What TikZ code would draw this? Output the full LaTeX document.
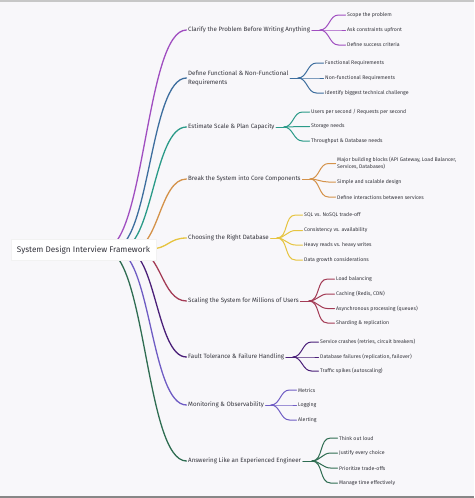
\documentclass[tikz,border=0pt]{standalone}
\usepackage{fontspec}
\setmainfont{Fira Sans}
\usetikzlibrary{calc}
\definecolor{bg}{HTML}{F8F7FA}
\definecolor{txt}{HTML}{34343C}
\definecolor{cA}{HTML}{A04EC0}
\definecolor{cB}{HTML}{3D6E9E}
\definecolor{cC}{HTML}{2A9A88}
\definecolor{cD}{HTML}{D4924A}
\definecolor{cE}{HTML}{E6C440}
\definecolor{cF}{HTML}{A33B55}
\definecolor{cG}{HTML}{4A1F78}
\definecolor{cH}{HTML}{6F5CC4}
\definecolor{cI}{HTML}{2F6D52}
\tikzset{
  rootbox/.style={fill=white, draw=black!5, line width=0.6pt, minimum width=145pt, minimum height=21pt, inner sep=0pt, text=txt, font=\fontsize{8.2}{9}\selectfont},
  topic/.style={anchor=west, inner sep=1.5pt, text=txt, align=left, font=\fontsize{6.2}{9}\selectfont},
  leaf/.style={anchor=west, inner sep=1.5pt, text=txt, align=left, font=\fontsize{5.2}{7.2}\selectfont},
  mainline/.style={line width=1.3pt, line cap=round},
  subline/.style={line width=1pt, line cap=round},
}
\begin{document}
\begin{tikzpicture}[x=1pt,y=-1pt]
\useasboundingbox (0,0) rectangle (474,498);
\fill[bg] (0,0) rectangle (474,498);
\fill[black!22] (0,0) rectangle (474,2);
\fill[black!47] (0,495.5) rectangle (474,498);

% topics
\node[topic] (t1) at (186.5,30) {Clarify the Problem Before Writing Anything};
\node[topic] (t2) at (186.5,78) {Define Functional \& Non-Functional\\Requirements};
\node[topic] (t3) at (186.5,127) {Estimate Scale \& Plan Capacity};
\node[topic] (t4) at (186.5,179) {Break the System into Core Components};
\node[topic] (t5) at (186.5,238) {Choosing the Right Database};
\node[topic] (t6) at (186.5,301) {Scaling the System for Millions of Users};
\node[topic] (t7) at (186.5,357) {Fault Tolerance \& Failure Handling};
\node[topic] (t8) at (186.5,405) {Monitoring \& Observability};
\node[topic] (t9) at (186.5,461) {Answering Like an Experienced Engineer};

% start points (hidden under the root box)
\coordinate (s1) at (104,249);
\coordinate (s2) at (113,249);
\coordinate (s3) at (120,249);
\coordinate (s4) at (132,249);
\coordinate (s5) at (150,249);
\coordinate (s6) at (136,250);
\coordinate (s7) at (126,250);
\coordinate (s8) at (115,250);
\coordinate (s9) at (105,250);

\draw[mainline,cA] (s1) .. controls +(41,0) and +(-41,0) .. (t1.west);
\draw[mainline,cB] (s2) .. controls +(37,0) and +(-37,0) .. (t2.west);
\draw[mainline,cC] (s3) .. controls +(33,0) and +(-33,0) .. (t3.west);
\draw[mainline,cD] (s4) .. controls +(27,0) and +(-27,0) .. (t4.west);
\draw[mainline,cE] (s5) .. controls +(18,0) and +(-18,0) .. (t5.west);
\draw[mainline,cF] (s6) .. controls +(25,0) and +(-25,0) .. (t6.west);
\draw[mainline,cG] (s7) .. controls +(30,0) and +(-30,0) .. (t7.west);
\draw[mainline,cH] (s8) .. controls +(36,0) and +(-36,0) .. (t8.west);
\draw[mainline,cI] (s9) .. controls +(41,0) and +(-41,0) .. (t9.west);

% root
\node[rootbox] (root) at (83.5,250) {System Design Interview Framework};

% leaves
\node[leaf] (l11) at (345.5,15) {Scope the problem};
\node[leaf] (l12) at (345.5,30) {Ask constraints upfront};
\node[leaf] (l13) at (345.5,45) {Define success criteria};
\node[leaf] (l21) at (323.5,63) {Functional Requirements};
\node[leaf] (l22) at (323.5,78) {Non-functional Requirements};
\node[leaf] (l23) at (323.5,93) {Identify biggest technical challenge};
\node[leaf] (l31) at (309.5,112) {Users per second / Requests per second};
\node[leaf] (l32) at (309.5,126.5) {Storage needs};
\node[leaf] (l33) at (309.5,141) {Throughput \& Database needs};
\node[leaf] (l41) at (335.5,163.5) {Major building blocks (API Gateway, Load Balancer,\\Services, Databases)};
\node[leaf] (l42) at (335.5,182) {Simple and scalable design};
\node[leaf] (l43) at (335.5,197) {Define interactions between services};
\node[leaf] (l51) at (302.5,215) {SQL vs. NoSQL trade-off};
\node[leaf] (l52) at (302.5,230.5) {Consistency vs. availability};
\node[leaf] (l53) at (302.5,245) {Heavy reads vs. heavy writes};
\node[leaf] (l54) at (302.5,260) {Data growth considerations};
\node[leaf] (l61) at (334.5,279) {Load balancing};
\node[leaf] (l62) at (334.5,294) {Caching (Redis, CDN)};
\node[leaf] (l63) at (334.5,308.5) {Asynchronous processing (queues)};
\node[leaf] (l64) at (334.5,323) {Sharding \& replication};
\node[leaf] (l71) at (318.5,342) {Service crashes (retries, circuit breakers)};
\node[leaf] (l72) at (318.5,357) {Database failures (replication, failover)};
\node[leaf] (l73) at (318.5,371) {Traffic spikes (autoscaling)};
\node[leaf] (l81) at (296.5,390) {Metrics};
\node[leaf] (l82) at (296.5,405) {Logging};
\node[leaf] (l83) at (296.5,420) {Alerting};
\node[leaf] (l91) at (337.5,438) {Think out loud};
\node[leaf] (l92) at (337.5,453) {Justify every choice};
\node[leaf] (l93) at (337.5,468) {Prioritize trade-offs};
\node[leaf] (l94) at (337.5,483) {Manage time effectively};

% forks
\coordinate (f1) at (320,30);
\coordinate (f2) at (298,78);
\coordinate (f3) at (284,127);
\coordinate (f4) at (310,179);
\coordinate (f5) at (277,238);
\coordinate (f6) at (309,301);
\coordinate (f7) at (293,357);
\coordinate (f8) at (271,405);
\coordinate (f9) at (312,461);

\draw[subline,cA] (t1.east) -- (f1);
\foreach \i in {1,2,3} \draw[subline,cA] (f1) to[out=0,in=180] ($(l1\i.west)+(-7,0)$) -- (l1\i.west);
\draw[subline,cB] (t2.east) -- (f2);
\foreach \i in {1,2,3} \draw[subline,cB] (f2) to[out=0,in=180] ($(l2\i.west)+(-7,0)$) -- (l2\i.west);
\draw[subline,cC] (t3.east) -- (f3);
\foreach \i in {1,2,3} \draw[subline,cC] (f3) to[out=0,in=180] ($(l3\i.west)+(-7,0)$) -- (l3\i.west);
\draw[subline,cD] (t4.east) -- (f4);
\foreach \i in {1,2,3} \draw[subline,cD] (f4) to[out=0,in=180] ($(l4\i.west)+(-7,0)$) -- (l4\i.west);
\draw[subline,cE] (t5.east) -- (f5);
\foreach \i in {1,2,3,4} \draw[subline,cE] (f5) to[out=0,in=180] ($(l5\i.west)+(-7,0)$) -- (l5\i.west);
\draw[subline,cF] (t6.east) -- (f6);
\foreach \i in {1,2,3,4} \draw[subline,cF] (f6) to[out=0,in=180] ($(l6\i.west)+(-7,0)$) -- (l6\i.west);
\draw[subline,cG] (t7.east) -- (f7);
\foreach \i in {1,2,3} \draw[subline,cG] (f7) to[out=0,in=180] ($(l7\i.west)+(-7,0)$) -- (l7\i.west);
\draw[subline,cH] (t8.east) -- (f8);
\foreach \i in {1,2,3} \draw[subline,cH] (f8) to[out=0,in=180] ($(l8\i.west)+(-7,0)$) -- (l8\i.west);
\draw[subline,cI] (t9.east) -- (f9);
\foreach \i in {1,2,3,4} \draw[subline,cI] (f9) to[out=0,in=180] ($(l9\i.west)+(-7,0)$) -- (l9\i.west);
\end{tikzpicture}
\end{document}
